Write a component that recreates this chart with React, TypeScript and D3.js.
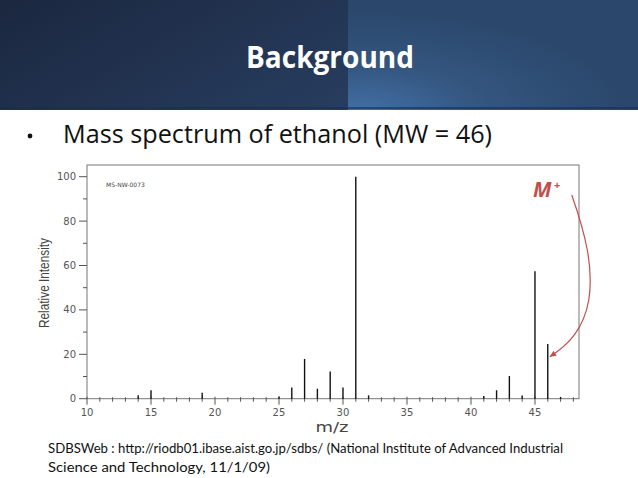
import React from "react";
import * as d3 from "d3";

const mzValues = [14, 15, 19, 25, 26, 27, 28, 29, 30, 31, 32, 41, 42, 43, 44, 45, 46, 47];
const intensities = [1.5, 3.8, 2.7, 1, 5.1, 17.9, 4.5, 12.2, 5.1, 100, 1.5, 1.2, 3.8, 10.2, 1.4, 57.4, 24.6, 0.8];
const xTickValues = [10, 15, 20, 25, 30, 35, 40, 45];
const yTickValues = [0, 20, 40, 60, 80, 100];
const title = "Background";
const bulletText = "Mass spectrum of ethanol (MW = 46)";
const sourceLines = [
  "SDBSWeb : http://riodb01.ibase.aist.go.jp/sdbs/ (National Institute of Advanced Industrial",
  "Science and Technology, 11/1/09)",
];
const spectrumId = "MS-NW-0073";
const molecularIonMz = 46;

export default function App() {
  const W = 638, H = 478;
  const left = 87, right = 579, top = 165, bottom = 398.7;
  const x = d3.scaleLinear().domain([10, 48.44]).range([left, right]);
  const y = d3.scaleLinear().domain([0, 100]).range([bottom, 176.7]);

  const minorX = d3.range(11, 49).filter((v) => v % 5 !== 0 && x(v) < right - 1);
  const minorY = [10, 30, 50, 70, 90];

  const peaks = mzValues.map((m, i) => ({ m, v: intensities[i] }));
  const mIon = peaks.find((p) => p.m === molecularIonMz)!;

  // annotation arrow anchored to the M+ peak
  const ex = x(mIon.m) + 2;
  const ey = y(mIon.v * 0.77);
  const arrow = d3.path();
  arrow.moveTo(ex + 22, 195);
  arrow.bezierCurveTo(ex + 36, 235, ex + 44, 268, ex + 39, 300);
  arrow.bezierCurveTo(ex + 34, 328, ex + 20, 344, ex, ey);
  const ah = 7;
  const ang = Math.atan2(ey - 344, ex - (ex + 20));

  const tickFont = "'DejaVu Sans', Verdana, sans-serif";

  return (
    <svg width={W} height={H} style={{ position: "absolute", left: 0, top: 0, background: "#fff" }}>
      <defs>
        <linearGradient id="hdrL" x1="0" y1="0" x2="1" y2="0.3">
          <stop offset="0" stopColor="#1b273f" />
          <stop offset="1" stopColor="#2b4469" />
        </linearGradient>
        <radialGradient id="hdrR" cx="0.05" cy="1" r="0.9" gradientTransform="scale(1,1)">
          <stop offset="0" stopColor="#426ea4" />
          <stop offset="0.45" stopColor="#34567f" />
          <stop offset="1" stopColor="#2b476c" />
        </radialGradient>
      </defs>
      <rect x={0} y={0} width={W} height={110} fill="url(#hdrL)" />
      <rect x={348} y={0} width={W - 348} height={110} fill="url(#hdrR)" />
      <rect x={0} y={107} width={W} height={2} fill="#1d2d48" opacity={0.6} />
      <text x={330} y={68} textAnchor="middle" fill="#fff" fontFamily="'Comic Sans MS', 'Open Sans', sans-serif" fontWeight="bold" fontSize={30} textLength={168} lengthAdjust="spacingAndGlyphs">{title}</text>

      <circle cx={30} cy={136} r={2.4} fill="#111" />
      <text x={63} y={143} fill="#111" fontFamily="'Comic Sans MS', 'Open Sans', sans-serif" fontSize={26} textLength={429} lengthAdjust="spacingAndGlyphs">{bulletText}</text>

      {/* plot frame */}
      <rect x={left} y={top} width={right - left} height={bottom - top} fill="none" stroke="#777" strokeWidth={1} />

      {/* y axis */}
      {yTickValues.map((v) => (
        <g key={"y" + v}>
          <line x1={left - 8} x2={left} y1={y(v)} y2={y(v)} stroke="#555" />
          <text x={left - 11} y={y(v) + 3.5} textAnchor="end" fill="#555" fontFamily={tickFont} fontSize={10}>{v}</text>
        </g>
      ))}
      {minorY.map((v) => (
        <line key={"ym" + v} x1={left - 4} x2={left} y1={y(v)} y2={y(v)} stroke="#555" />
      ))}

      {/* x axis */}
      {xTickValues.map((v) => (
        <g key={"x" + v}>
          <line x1={x(v)} x2={x(v)} y1={bottom - 2} y2={bottom + 6} stroke="#555" />
          <text x={x(v)} y={bottom + 17} textAnchor="middle" fill="#555" fontFamily={tickFont} fontSize={10}>{v}</text>
        </g>
      ))}
      {minorX.map((v) => (
        <line key={"xm" + v} x1={x(v)} x2={x(v)} y1={bottom - 1.5} y2={bottom + 3} stroke="#555" />
      ))}

      {/* peaks */}
      {peaks.map((p) => (
        <line key={"p" + p.m} x1={x(p.m)} x2={x(p.m)} y1={bottom} y2={y(p.v)} stroke="#111" strokeWidth={1.4} />
      ))}

      <text x={106} y={187} fill="#444" fontFamily={tickFont} fontSize={6}>{spectrumId}</text>

      <text transform={`translate(49,283) rotate(-90)`} textAnchor="middle" fill="#444" fontFamily="'Liberation Sans Narrow', 'Liberation Sans', Arial, sans-serif" fontSize={14} textLength={90} lengthAdjust="spacingAndGlyphs">Relative Intensity</text>
      <text x={332} y={432} textAnchor="middle" fill="#444" fontFamily={tickFont} fontSize={14} textLength={33} lengthAdjust="spacingAndGlyphs">m/z</text>

      {/* M+ annotation */}
      <text x={533} y={197} fill="#c0504d" fontFamily="'Comic Sans MS', 'Open Sans', sans-serif" fontWeight="bold" fontSize={21} fontStyle="italic">M</text>
      <text x={554} y={189} fill="#c0504d" fontFamily="'Open Sans', sans-serif" fontWeight="bold" fontSize={11}>+</text>
      <path d={arrow.toString()} fill="none" stroke="#c0504d" strokeWidth={1.2} />
      <path
        d={`M${ex},${ey} L${ex - ah * Math.cos(ang - 0.45)},${ey - ah * Math.sin(ang - 0.45)} L${ex - ah * Math.cos(ang + 0.45)},${ey - ah * Math.sin(ang + 0.45)} Z`}
        fill="#c0504d"
      />

      {sourceLines.map((s, i) => (
        <text key={"s" + i} x={48} y={453 + i * 19} fill="#111" fontFamily="Lato, 'Open Sans', sans-serif" fontSize={14} textLength={i === 0 ? 515 : 222} lengthAdjust="spacingAndGlyphs">{s}</text>
      ))}
    </svg>
  );
}
